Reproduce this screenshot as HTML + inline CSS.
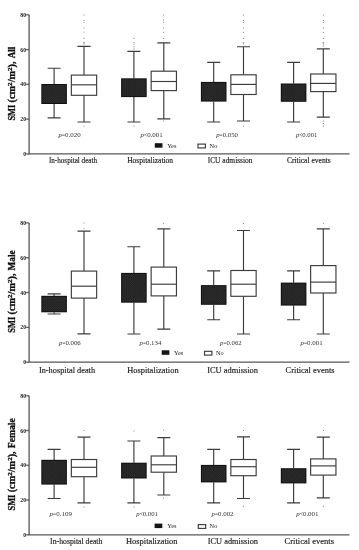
<!DOCTYPE html>
<html lang="en">
<head>
<meta charset="utf-8">
<title>SMI box plots</title>
<style>
html,body{margin:0;padding:0;background:#fff;}
svg{display:block;font-family:"Liberation Serif","DejaVu Serif",serif;}
.l{stroke:#3c3c3c;stroke-width:1.15;fill:none;}
rect.l{fill:#fff;}
.a{stroke:#585858;stroke-width:1.3;fill:none;}
.tk{font-size:5.8px;font-weight:bold;text-anchor:end;fill:#222;}
.yl{font-weight:bold;fill:#111;stroke:#111;stroke-width:0.3;}
.sp{font-size:6.6px;}
.xl{fill:#1a1a1a;stroke:#1a1a1a;stroke-width:0.15;}
.pv{font-size:6.6px;fill:#333;}
.lg{font-size:6.3px;fill:#222;}
</style>
</head>
<body>
<svg width="359" height="550" viewBox="0 0 359 550">
<defs><pattern id="dp" width="2.2" height="2.2" patternUnits="userSpaceOnUse"><rect width="2.2" height="2.2" fill="#1e1e1e"/><circle cx="0.55" cy="0.55" r="0.5" fill="#3a3a3a"/><circle cx="1.65" cy="1.65" r="0.5" fill="#3a3a3a"/></pattern></defs>
<rect width="359" height="550" fill="#fff"/>
<path d="M29.1 14.8V153.9H349.5" class="a" fill="none"/>
<path d="M26.2 14.8H29.1" class="a"/>
<text x="26.1" y="16.8" class="tk">80</text>
<path d="M26.2 49.58H29.1" class="a"/>
<text x="26.1" y="51.58" class="tk">60</text>
<path d="M26.2 84.35H29.1" class="a"/>
<text x="26.1" y="86.35" class="tk">40</text>
<path d="M26.2 119.12H29.1" class="a"/>
<text x="26.1" y="121.12" class="tk">20</text>
<path d="M26.2 153.9H29.1" class="a"/>
<text x="26.1" y="155.9" class="tk">0</text>
<g transform="translate(15.4 120.6) rotate(-90)" class="yl" font-size="9.5"><text x="0" y="0" textLength="15.9" lengthAdjust="spacingAndGlyphs">SMI</text><text x="18.2" y="0" textLength="41" lengthAdjust="spacingAndGlyphs">(cm<tspan class="sp" dy="-3.9">2</tspan><tspan dy="3.9">/m</tspan><tspan class="sp" dy="-3.9">2</tspan><tspan dy="3.9">),</tspan></text><text x="62.3" y="0" textLength="11.5" lengthAdjust="spacingAndGlyphs">All</text></g>
<path d="M54.1 68.2V84.1M54.1 103.9V117.9M47.6 68.2H60.6M47.6 117.9H60.6" class="l"/><rect x="41.3" y="84" width="25.6" height="20" fill="#101010"/><rect x="42.35" y="85" width="23.5" height="18" fill="url(#dp)"/>
<path d="M84 46.4V75.1M84 95.3V122M77.5 46.4H90.5M77.5 122H90.5" class="l"/><rect x="71.35" y="75.1" width="25.3" height="20.2" fill="#fff" class="l"/><path d="M71.35 84.8H96.65" class="l"/>
<path d="M133.9 51.3V78.4M133.9 97V122M127.4 51.3H140.4M127.4 122H140.4" class="l"/><rect x="121.1" y="78.3" width="25.6" height="18.8" fill="#101010"/><rect x="122.15" y="79.3" width="23.5" height="16.8" fill="url(#dp)"/>
<path d="M163.8 42.9V71.2M163.8 90.6V118.9M157.3 42.9H170.3M157.3 118.9H170.3" class="l"/><rect x="151.15" y="71.2" width="25.3" height="19.4" fill="#fff" class="l"/><path d="M151.15 81.5H176.45" class="l"/>
<path d="M213.7 62.3V82M213.7 101.5V122M207.2 62.3H220.2M207.2 122H220.2" class="l"/><rect x="200.9" y="81.9" width="25.6" height="19.7" fill="#101010"/><rect x="201.95" y="82.9" width="23.5" height="17.7" fill="url(#dp)"/>
<path d="M243.5 46.7V74.8M243.5 94.5V121M237 46.7H250M237 121H250" class="l"/><rect x="230.85" y="74.8" width="25.3" height="19.7" fill="#fff" class="l"/><path d="M230.85 84.4H256.15" class="l"/>
<path d="M293.6 62.3V83.6M293.6 101.7V122M287.1 62.3H300.1M287.1 122H300.1" class="l"/><rect x="280.8" y="83.5" width="25.6" height="18.3" fill="#101010"/><rect x="281.85" y="84.5" width="23.5" height="16.3" fill="url(#dp)"/>
<path d="M323.3 48.9V74M323.3 91.6V117.1M316.8 48.9H329.8M316.8 117.1H329.8" class="l"/><rect x="310.65" y="74" width="25.3" height="17.6" fill="#fff" class="l"/><path d="M310.65 83.4H335.95" class="l"/>
<circle cx="84" cy="14.9" r="0.5" fill="#333" opacity="0.8"/>
<circle cx="84" cy="20.5" r="0.5" fill="#333" opacity="0.8"/>
<circle cx="84" cy="22.6" r="0.5" fill="#333" opacity="0.8"/>
<circle cx="84" cy="27.9" r="0.5" fill="#333" opacity="0.8"/>
<circle cx="84" cy="32.1" r="0.5" fill="#333" opacity="0.8"/>
<circle cx="84" cy="38.2" r="0.5" fill="#333" opacity="0.8"/>
<circle cx="84" cy="42.7" r="0.8" fill="#333" opacity="0.7"/>
<circle cx="84" cy="43.9" r="0.5" fill="#333" opacity="0.8"/>
<circle cx="84" cy="125.9" r="0.5" fill="#333" opacity="0.8"/>
<circle cx="134" cy="38.4" r="0.5" fill="#333" opacity="0.8"/>
<circle cx="134" cy="42.6" r="0.5" fill="#333" opacity="0.8"/>
<circle cx="134" cy="44" r="0.5" fill="#333" opacity="0.8"/>
<circle cx="134" cy="46.8" r="0.5" fill="#333" opacity="0.8"/>
<circle cx="134" cy="49" r="0.5" fill="#333" opacity="0.8"/>
<circle cx="134" cy="125.9" r="0.5" fill="#333" opacity="0.8"/>
<circle cx="163.7" cy="15" r="0.5" fill="#333" opacity="0.8"/>
<circle cx="163.7" cy="20" r="0.5" fill="#333" opacity="0.8"/>
<circle cx="163.7" cy="22.2" r="0.5" fill="#333" opacity="0.8"/>
<circle cx="163.7" cy="28" r="0.5" fill="#333" opacity="0.8"/>
<circle cx="163.7" cy="32.2" r="0.5" fill="#333" opacity="0.8"/>
<circle cx="163.7" cy="38.4" r="0.5" fill="#333" opacity="0.8"/>
<circle cx="163.7" cy="121" r="0.5" fill="#333" opacity="0.8"/>
<circle cx="243.4" cy="15" r="0.5" fill="#333" opacity="0.8"/>
<circle cx="243.4" cy="20.2" r="0.5" fill="#333" opacity="0.8"/>
<circle cx="243.4" cy="22.2" r="0.5" fill="#333" opacity="0.8"/>
<circle cx="243.4" cy="28" r="0.5" fill="#333" opacity="0.8"/>
<circle cx="243.4" cy="32.2" r="0.5" fill="#333" opacity="0.8"/>
<circle cx="243.4" cy="38.4" r="0.5" fill="#333" opacity="0.8"/>
<circle cx="243.4" cy="43.1" r="0.8" fill="#333" opacity="0.7"/>
<circle cx="243.4" cy="125.9" r="0.5" fill="#333" opacity="0.8"/>
<circle cx="323.3" cy="15" r="0.5" fill="#333" opacity="0.8"/>
<circle cx="323.3" cy="20.2" r="0.5" fill="#333" opacity="0.8"/>
<circle cx="323.3" cy="22.2" r="0.5" fill="#333" opacity="0.8"/>
<circle cx="323.3" cy="28" r="0.5" fill="#333" opacity="0.8"/>
<circle cx="323.3" cy="32.2" r="0.5" fill="#333" opacity="0.8"/>
<circle cx="323.3" cy="38.4" r="0.5" fill="#333" opacity="0.8"/>
<circle cx="323.3" cy="42.8" r="0.7" fill="#333" opacity="0.7"/>
<circle cx="323.3" cy="44" r="0.5" fill="#333" opacity="0.8"/>
<circle cx="323.3" cy="46.1" r="0.5" fill="#333" opacity="0.8"/>
<circle cx="323.3" cy="121" r="0.5" fill="#333" opacity="0.8"/>
<circle cx="323.3" cy="123.5" r="0.5" fill="#333" opacity="0.8"/>
<circle cx="323.3" cy="126" r="0.5" fill="#333" opacity="0.8"/>
<text x="58.5" y="136.5" textLength="22.2" lengthAdjust="spacingAndGlyphs" class="pv"><tspan font-style="italic">p</tspan><tspan font-size="5.2">=</tspan>0.020</text>
<text x="140.6" y="136.5" textLength="22.2" lengthAdjust="spacingAndGlyphs" class="pv"><tspan font-style="italic">p</tspan><tspan font-size="5.2">&lt;</tspan>0.001</text>
<text x="216.2" y="136.5" textLength="21.8" lengthAdjust="spacingAndGlyphs" class="pv"><tspan font-style="italic">p</tspan><tspan font-size="5.2">=</tspan>0.050</text>
<text x="296" y="136.5" textLength="21.3" lengthAdjust="spacingAndGlyphs" class="pv"><tspan font-style="italic">p</tspan><tspan font-size="5.2">&lt;</tspan>0.001</text>
<rect x="154.8" y="143.2" width="7.7" height="4.5" fill="#141414"/>
<text x="167.2" y="147.6" class="lg">Yes</text>
<rect x="198" y="144.1" width="7.4" height="3.8" fill="#fff" class="l"/>
<text x="209.6" y="147.6" class="lg">No</text>
<text x="48.9" y="163.3" font-size="7.7" textLength="48.2" lengthAdjust="spacingAndGlyphs" class="xl">In-hospital death</text>
<text x="127.2" y="163.3" font-size="7.7" textLength="45.9" lengthAdjust="spacingAndGlyphs" class="xl">Hospitalization</text>
<text x="207.7" y="163.3" font-size="7.7" textLength="44.8" lengthAdjust="spacingAndGlyphs" class="xl">ICU admission</text>
<text x="286.9" y="163.3" font-size="7.7" textLength="43.8" lengthAdjust="spacingAndGlyphs" class="xl">Critical events</text>
<path d="M29.1 222.9V362.2H349.5" class="a" fill="none"/>
<path d="M26.2 222.9H29.1" class="a"/>
<text x="26.1" y="224.9" class="tk">80</text>
<path d="M26.2 257.73H29.1" class="a"/>
<text x="26.1" y="259.73" class="tk">60</text>
<path d="M26.2 292.55H29.1" class="a"/>
<text x="26.1" y="294.55" class="tk">40</text>
<path d="M26.2 327.38H29.1" class="a"/>
<text x="26.1" y="329.38" class="tk">20</text>
<path d="M26.2 362.2H29.1" class="a"/>
<text x="26.1" y="364.2" class="tk">0</text>
<g transform="translate(15.4 332.7) rotate(-90)" class="yl" font-size="9.5"><text x="0" y="0" textLength="15.9" lengthAdjust="spacingAndGlyphs">SMI</text><text x="18.2" y="0" textLength="41" lengthAdjust="spacingAndGlyphs">(cm<tspan class="sp" dy="-3.9">2</tspan><tspan dy="3.9">/m</tspan><tspan class="sp" dy="-3.9">2</tspan><tspan dy="3.9">),</tspan></text><text x="62.3" y="0" textLength="20.0" lengthAdjust="spacingAndGlyphs">Male</text></g>
<path d="M54.1 293.8V295.9M54.1 312.2V314M47.6 293.8H60.6M47.6 314H60.6" class="l"/><rect x="41.3" y="295.8" width="25.6" height="16.5" fill="#101010"/><rect x="42.35" y="296.8" width="23.5" height="14.5" fill="url(#dp)"/>
<path d="M84 231.1V271.1M84 298.1V333.9M77.5 231.1H90.5M77.5 333.9H90.5" class="l"/><rect x="71.35" y="271.1" width="25.3" height="27" fill="#fff" class="l"/><path d="M71.35 286.2H96.65" class="l"/>
<path d="M133.9 246.7V273M133.9 302.6V334M127.4 246.7H140.4M127.4 334H140.4" class="l"/><rect x="121.1" y="272.9" width="25.6" height="29.8" fill="#101010"/><rect x="122.15" y="273.9" width="23.5" height="27.8" fill="url(#dp)"/>
<path d="M163.8 228.9V267.1M163.8 295.9V329.1M157.3 228.9H170.3M157.3 329.1H170.3" class="l"/><rect x="151.15" y="267.1" width="25.3" height="28.8" fill="#fff" class="l"/><path d="M151.15 284.2H176.45" class="l"/>
<path d="M213.7 270.8V285.2M213.7 304.7V319.7M207.2 270.8H220.2M207.2 319.7H220.2" class="l"/><rect x="200.9" y="285.1" width="25.6" height="19.7" fill="#101010"/><rect x="201.95" y="286.1" width="23.5" height="17.7" fill="url(#dp)"/>
<path d="M243.5 230.5V270.5M243.5 296.3V334M237 230.5H250M237 334H250" class="l"/><rect x="230.85" y="270.5" width="25.3" height="25.8" fill="#fff" class="l"/><path d="M230.85 284.2H256.15" class="l"/>
<path d="M293.6 270.8V282.7M293.6 305.5V319.7M287.1 270.8H300.1M287.1 319.7H300.1" class="l"/><rect x="280.8" y="282.6" width="25.6" height="23" fill="#101010"/><rect x="281.85" y="283.6" width="23.5" height="21" fill="url(#dp)"/>
<path d="M323.3 228.9V265.6M323.3 293V334M316.8 228.9H329.8M316.8 334H329.8" class="l"/><rect x="310.65" y="265.6" width="25.3" height="27.4" fill="#fff" class="l"/><path d="M310.65 282.1H335.95" class="l"/>
<circle cx="84" cy="223" r="0.5" fill="#333" opacity="0.8"/>
<circle cx="84" cy="228.3" r="0.5" fill="#333" opacity="0.8"/>
<circle cx="163.7" cy="223.3" r="0.5" fill="#333" opacity="0.8"/>
<circle cx="243.4" cy="223.6" r="0.5" fill="#333" opacity="0.8"/>
<circle cx="323.3" cy="223.3" r="0.5" fill="#333" opacity="0.8"/>
<text x="59" y="344.7" textLength="21.8" lengthAdjust="spacingAndGlyphs" class="pv"><tspan font-style="italic">p</tspan><tspan font-size="5.2">=</tspan>0.006</text>
<text x="139.6" y="344.7" textLength="21.7" lengthAdjust="spacingAndGlyphs" class="pv"><tspan font-style="italic">p</tspan><tspan font-size="5.2">=</tspan>0.134</text>
<text x="220.1" y="344.7" textLength="21.6" lengthAdjust="spacingAndGlyphs" class="pv"><tspan font-style="italic">p</tspan><tspan font-size="5.2">=</tspan>0.062</text>
<text x="300.5" y="344.7" textLength="22.3" lengthAdjust="spacingAndGlyphs" class="pv"><tspan font-style="italic">p</tspan><tspan font-size="5.2">=</tspan>0.001</text>
<rect x="161.7" y="350.3" width="7.7" height="4.5" fill="#141414"/>
<text x="174" y="354.7" class="lg">Yes</text>
<rect x="204.5" y="351.3" width="7.4" height="3.8" fill="#fff" class="l"/>
<text x="216" y="354.7" class="lg">No</text>
<text x="38.9" y="372.6" font-size="8.5" textLength="56.2" lengthAdjust="spacingAndGlyphs" class="xl">In-hospital death</text>
<text x="127.2" y="372.6" font-size="8.5" textLength="51.4" lengthAdjust="spacingAndGlyphs" class="xl">Hospitalization</text>
<text x="207.2" y="372.6" font-size="8.5" textLength="50.8" lengthAdjust="spacingAndGlyphs" class="xl">ICU admission</text>
<text x="285.6" y="372.6" font-size="8.5" textLength="49" lengthAdjust="spacingAndGlyphs" class="xl">Critical events</text>
<path d="M29.1 395.8V534.8H349.5" class="a" fill="none"/>
<path d="M26.2 395.8H29.1" class="a"/>
<text x="26.1" y="397.8" class="tk">80</text>
<path d="M26.2 430.55H29.1" class="a"/>
<text x="26.1" y="432.55" class="tk">60</text>
<path d="M26.2 465.3H29.1" class="a"/>
<text x="26.1" y="467.3" class="tk">40</text>
<path d="M26.2 500.05H29.1" class="a"/>
<text x="26.1" y="502.05" class="tk">20</text>
<path d="M26.2 534.8H29.1" class="a"/>
<text x="26.1" y="536.8" class="tk">0</text>
<g transform="translate(15.4 510.5) rotate(-90)" class="yl" font-size="9.5"><text x="0" y="0" textLength="15.9" lengthAdjust="spacingAndGlyphs">SMI</text><text x="18.2" y="0" textLength="41" lengthAdjust="spacingAndGlyphs">(cm<tspan class="sp" dy="-3.9">2</tspan><tspan dy="3.9">/m</tspan><tspan class="sp" dy="-3.9">2</tspan><tspan dy="3.9">),</tspan></text><text x="62.3" y="0" textLength="30.0" lengthAdjust="spacingAndGlyphs">Female</text></g>
<path d="M54.1 449.3V459.9M54.1 484.5V498.5M47.6 449.3H60.6M47.6 498.5H60.6" class="l"/><rect x="41.3" y="459.8" width="25.6" height="24.8" fill="#101010"/><rect x="42.35" y="460.8" width="23.5" height="22.8" fill="url(#dp)"/>
<path d="M84 437.1V459.5M84 476.7V502.8M77.5 437.1H90.5M77.5 502.8H90.5" class="l"/><rect x="71.35" y="459.5" width="25.3" height="17.2" fill="#fff" class="l"/><path d="M71.35 467.3H96.65" class="l"/>
<path d="M133.9 441V462.8M133.9 478.4V502.8M127.4 441H140.4M127.4 502.8H140.4" class="l"/><rect x="121.1" y="462.7" width="25.6" height="15.8" fill="#101010"/><rect x="122.15" y="463.7" width="23.5" height="13.8" fill="url(#dp)"/>
<path d="M163.8 437.6V456M163.8 472.2V495M157.3 437.6H170.3M157.3 495H170.3" class="l"/><rect x="151.15" y="456" width="25.3" height="16.2" fill="#fff" class="l"/><path d="M151.15 464.8H176.45" class="l"/>
<path d="M213.7 449.4V465M213.7 482.3V502.8M207.2 449.4H220.2M207.2 502.8H220.2" class="l"/><rect x="200.9" y="464.9" width="25.6" height="17.5" fill="#101010"/><rect x="201.95" y="465.9" width="23.5" height="15.5" fill="url(#dp)"/>
<path d="M243.5 436.9V459.5M243.5 475.7V498.5M237 436.9H250M237 498.5H250" class="l"/><rect x="230.85" y="459.5" width="25.3" height="16.2" fill="#fff" class="l"/><path d="M230.85 466.7H256.15" class="l"/>
<path d="M293.6 449.3V468.3M293.6 483.3V502.8M287.1 449.3H300.1M287.1 502.8H300.1" class="l"/><rect x="280.8" y="468.2" width="25.6" height="15.2" fill="#101010"/><rect x="281.85" y="469.2" width="23.5" height="13.2" fill="url(#dp)"/>
<path d="M323.3 437.1V458.9M323.3 475.1V497.9M316.8 437.1H329.8M316.8 497.9H329.8" class="l"/><rect x="310.65" y="458.9" width="25.3" height="16.2" fill="#fff" class="l"/><path d="M310.65 465.9H335.95" class="l"/>
<circle cx="84" cy="430.6" r="0.5" fill="#333" opacity="0.8"/>
<circle cx="84" cy="506.9" r="0.5" fill="#333" opacity="0.8"/>
<circle cx="134" cy="430.9" r="0.5" fill="#333" opacity="0.8"/>
<circle cx="134" cy="506.9" r="0.5" fill="#333" opacity="0.8"/>
<circle cx="163.7" cy="430.1" r="0.5" fill="#333" opacity="0.8"/>
<circle cx="163.7" cy="497.9" r="0.5" fill="#333" opacity="0.8"/>
<circle cx="243.4" cy="430.6" r="0.5" fill="#333" opacity="0.8"/>
<circle cx="243.4" cy="506.3" r="0.5" fill="#333" opacity="0.8"/>
<circle cx="323.3" cy="430.6" r="0.5" fill="#333" opacity="0.8"/>
<circle cx="323.3" cy="506.3" r="0.5" fill="#333" opacity="0.8"/>
<text x="49.6" y="515.5" textLength="22.3" lengthAdjust="spacingAndGlyphs" class="pv"><tspan font-style="italic">p</tspan><tspan font-size="5.2">=</tspan>0.109</text>
<text x="136.3" y="515.5" textLength="21.6" lengthAdjust="spacingAndGlyphs" class="pv"><tspan font-style="italic">p</tspan><tspan font-size="5.2">&lt;</tspan>0.001</text>
<text x="211.6" y="515.5" textLength="21.9" lengthAdjust="spacingAndGlyphs" class="pv"><tspan font-style="italic">p</tspan><tspan font-size="5.2">=</tspan>0.002</text>
<text x="296.3" y="515.5" textLength="22.3" lengthAdjust="spacingAndGlyphs" class="pv"><tspan font-style="italic">p</tspan><tspan font-size="5.2">&lt;</tspan>0.001</text>
<rect x="154.6" y="523.6" width="7.7" height="4.5" fill="#141414"/>
<text x="167.3" y="527.6" class="lg">Yes</text>
<rect x="198.3" y="524.6" width="7.4" height="3.8" fill="#fff" class="l"/>
<text x="209.6" y="527.6" class="lg">No</text>
<text x="50.1" y="543.8" font-size="8.2" textLength="52.3" lengthAdjust="spacingAndGlyphs" class="xl">In-hospital death</text>
<text x="126" y="543.8" font-size="8.2" textLength="51.5" lengthAdjust="spacingAndGlyphs" class="xl">Hospitalization</text>
<text x="207.8" y="543.8" font-size="8.2" textLength="50.2" lengthAdjust="spacingAndGlyphs" class="xl">ICU admission</text>
<text x="284.5" y="543.8" font-size="8.2" textLength="49.5" lengthAdjust="spacingAndGlyphs" class="xl">Critical events</text>
</svg>
</body>
</html>
